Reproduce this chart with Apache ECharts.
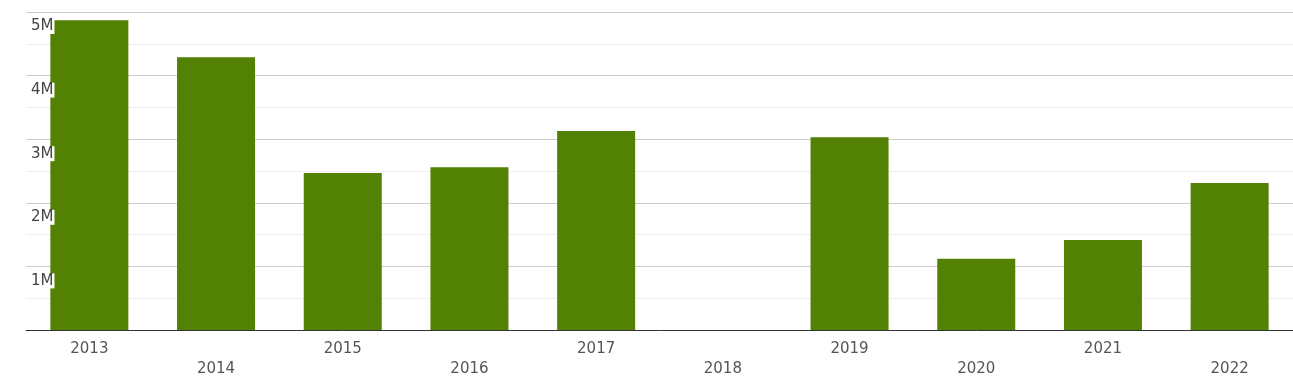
<!DOCTYPE html>
<html><head><meta charset="utf-8">
<script src="https://cdn.jsdelivr.net/npm/echarts@6/dist/echarts.min.js"></script>
<style>html,body{margin:0;padding:0;background:#fff}#c{width:1293px;height:384px}</style>
</head><body><div id="c"></div>
<script>
const categories = ['2013','2014','2015','2016','2017','2018','2019','2020','2021','2022'];
const values = [4870000, 4290000, 2470000, 2560000, 3130000, null, 3030000, 1120000, 1415000, 2310000];
const yTickLabels = {0:'', 1000000:'1M', 2000000:'2M', 3000000:'3M', 4000000:'4M', 5000000:'5M'};

const chart = echarts.init(document.getElementById('c'), null, {renderer:'canvas'});
const font = 'DejaVu Sans';
chart.setOption({
  animation:false,
  grid:{left:26, right:0, top:12, bottom:54},
  xAxis:{type:'category', data:categories,
    axisLine:{show:true, lineStyle:{color:'#333', width:1}},
    axisTick:{show:false},
    axisLabel:{interval:0, color:'#555', fontFamily:font, fontSize:15, margin:9, lineHeight:20,
      formatter:(v,i)=> (i%2 ? '\n'+v : v)}},
  yAxis:[{type:'value', min:0, max:5000000, interval:1000000,
    axisLine:{show:false}, axisTick:{show:false}, axisLabel:{show:false},
    splitLine:{show:true, lineStyle:{color:'#ccc', width:1}},
    minorTick:{show:false, splitNumber:2},
    minorSplitLine:{show:true, lineStyle:{color:'#eee', width:1}}},
   {type:'value', min:0, max:5000000, interval:1000000, position:'left', z:10,
    axisLine:{show:false}, axisTick:{show:false}, splitLine:{show:false},
    axisLabel:{inside:true, margin:4, verticalAlign:'top', padding:[7,0,0,0],
      formatter:v=> (yTickLabels[v] ? '{a|'+yTickLabels[v]+'}' : ''),
      rich:{a:{color:'#444', fontFamily:font, fontSize:15, lineHeight:15,
        backgroundColor:'#fff', padding:[0,1,0,1]}}}}],
  series:[{type:'bar', data:values, barWidth:78, itemStyle:{color:'#538103'}, yAxisIndex:0}]
});
</script></body></html>
